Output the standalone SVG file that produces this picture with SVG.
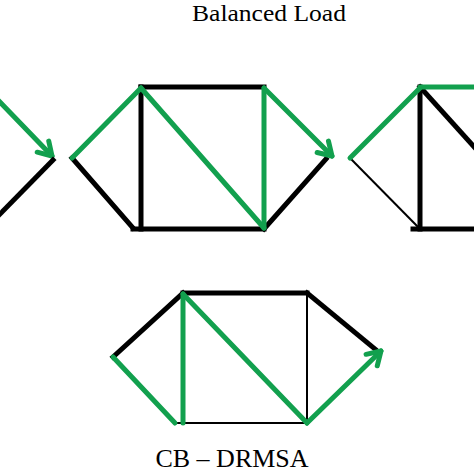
<svg xmlns="http://www.w3.org/2000/svg" width="474" height="474" viewBox="0 0 474 474">
<style>
.k{stroke:#000;stroke-width:5;fill:none;stroke-linecap:square}
.kt{stroke:#000;stroke-width:2;fill:none}
.g{stroke:#12a04e;stroke-width:5;fill:none;stroke-linecap:round}
.t{font-family:"Liberation Serif","Times New Roman",serif;fill:#000}
</style>
<defs>
<marker id="arr" markerUnits="userSpaceOnUse" markerWidth="30" markerHeight="30" viewBox="-20 -15 30 30" refX="0" refY="0" orient="auto">
<path d="M-13,-8 L0,0 L-13,8" stroke="#12a04e" stroke-width="5" fill="none" stroke-linecap="round" stroke-linejoin="round"/>
</marker>
</defs>
<rect width="474" height="474" fill="#fff"/>
<text class="t" x="269" y="21" font-size="23" text-anchor="middle" textLength="154" lengthAdjust="spacingAndGlyphs">Balanced Load</text>
<text class="t" x="232" y="467" font-size="26" text-anchor="middle">CB – DRMSA</text>
<g id="connectors">
<!-- left partial -->
<line class="g" x1="-2" y1="100" x2="52" y2="156" marker-end="url(#arr)"/>
<line class="k" x1="53" y1="160" x2="0" y2="214"/>
<!-- middle hexagon -->
<line class="k" x1="72" y1="158" x2="133" y2="228"/>
<line class="k" x1="133" y1="229" x2="264" y2="229"/>
<line class="k" x1="141" y1="87" x2="264" y2="87"/>
<line class="k" x1="141" y1="87" x2="141" y2="229"/>
<line class="k" x1="264" y1="229" x2="326" y2="159"/>
<line class="g" x1="72" y1="158" x2="141" y2="88"/>
<line class="g" x1="141" y1="88" x2="264" y2="228"/>
<line class="g" x1="264" y1="88" x2="264" y2="228"/>
<line class="g" x1="264" y1="88" x2="332" y2="156" marker-end="url(#arr)"/>
<!-- right partial -->
<line class="kt" x1="350" y1="158" x2="420" y2="229"/>
<line class="k" x1="420" y1="87" x2="420" y2="229"/>
<line class="k" x1="413" y1="229" x2="476" y2="229"/>
<line class="k" x1="420" y1="87" x2="476" y2="149"/>
<line class="g" x1="350" y1="158" x2="420" y2="88"/>
<line class="g" x1="420" y1="87" x2="476" y2="87"/>
<!-- bottom hexagon -->
<line class="k" x1="113" y1="357" x2="183" y2="293"/>
<line class="k" x1="183" y1="293" x2="307" y2="293"/>
<line class="k" x1="307" y1="293" x2="375" y2="349"/>
<line class="kt" x1="175" y1="423" x2="307" y2="423"/>
<line class="kt" x1="307" y1="293" x2="307" y2="423"/>
<line class="g" x1="113" y1="357" x2="175" y2="423"/>
<line class="g" x1="183" y1="294" x2="183" y2="423"/>
<line class="g" x1="183" y1="294" x2="307" y2="423"/>
<line class="g" x1="307" y1="423" x2="381" y2="351" marker-end="url(#arr)"/>
</g>
</svg>
